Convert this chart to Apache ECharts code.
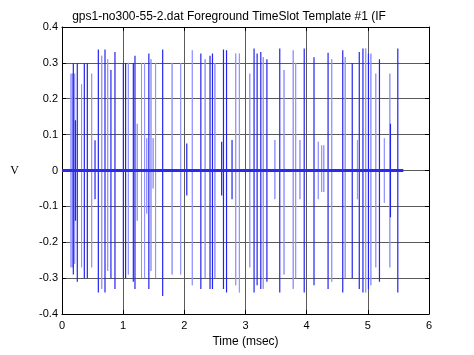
<!DOCTYPE html>
<html>
<head>
<meta charset="utf-8">
<script src="https://cdn.jsdelivr.net/npm/echarts@6/dist/echarts.min.js"></script>
<style>html,body{margin:0;padding:0;background:#fff}#c{width:474px;height:355px}</style>
</head>
<body>
<div id="c"></div>
<script>
const titleText = "gps1-no300-55-2.dat Foreground TimeSlot Template #1 (IF";
const xTicks = [0, 1, 2, 3, 4, 5, 6];
const yTicks = [-0.4, -0.3, -0.2, -0.1, 0, 0.1, 0.2, 0.3, 0.4];
// pulse times (msec), positive peak, negative peak, dark(1)/faint(0)
const spikeT  = [0.147,0.17,0.185,0.207,0.22,0.25,0.32,0.365,0.414,0.485,0.54,0.594,0.65,0.703,0.747,0.80,0.866,1.003,1.04,1.085,1.166,1.193,1.23,1.30,1.35,1.385,1.42,1.455,1.49,1.53,1.646,1.80,1.94,2.04,2.13,2.27,2.34,2.42,2.46,2.50,2.61,2.64,2.69,2.78,2.84,2.90,3.07,3.14,3.19,3.25,3.29,3.35,3.48,3.56,3.63,3.78,3.82,3.89,3.96,4.12,4.19,4.245,4.28,4.35,4.41,4.59,4.63,4.745,4.83,4.86,4.92,4.965,5.01,5.05,5.13,5.19,5.27,5.36,5.37,5.49];
const spikeHi = [0.27,0.27,0.30,0.27,0.14,0.30,0.24,0.30,0.30,0.27,0.084,0.337,0.32,0.337,0.31,0.28,0.33,0.30,0.30,0.30,0.30,0.32,0.13,0.30,0.30,0.09,0.326,0.31,0.09,0.30,0.337,0.30,0.30,0.075,0.335,0.326,0.31,0.32,0.326,0.30,0.08,0.337,0.335,0.085,0.326,0.326,0.27,0.34,0.326,0.33,0.316,0.31,0.085,0.34,0.28,0.335,0.30,0.085,0.34,0.316,0.08,0.07,0.07,0.328,0.31,0.335,0.316,0.30,0.085,0.33,0.34,0.34,0.326,0.326,0.27,0.31,0.09,0.27,0.13,0.34];
const spikeLo = [-0.27,-0.27,-0.29,-0.26,-0.14,-0.31,-0.27,-0.30,-0.30,-0.27,-0.08,-0.34,-0.33,-0.34,-0.28,-0.30,-0.33,-0.30,-0.30,-0.29,-0.31,-0.33,-0.14,-0.30,-0.30,-0.12,-0.33,-0.28,-0.05,-0.30,-0.35,-0.29,-0.29,-0.07,-0.32,-0.33,-0.30,-0.33,-0.33,-0.30,-0.07,-0.33,-0.34,-0.08,-0.32,-0.34,-0.27,-0.34,-0.32,-0.33,-0.33,-0.31,-0.08,-0.34,-0.29,-0.33,-0.30,-0.08,-0.34,-0.32,-0.08,-0.06,-0.06,-0.33,-0.31,-0.34,-0.30,-0.30,-0.08,-0.33,-0.34,-0.34,-0.33,-0.32,-0.27,-0.31,-0.09,-0.27,-0.13,-0.34];
const spikeDark = [0,0,1,0,1,1,0,1,1,0,1,1,0,1,0,1,1,1,1,0,1,1,0,0,0,0,1,0,0,0,1,0,0,1,0,1,0,1,1,0,1,1,1,1,0,0,0,1,1,1,0,1,0,1,0,0,0,0,1,1,0,0,0,1,0,1,0,1,0,1,1,0,1,0,0,1,0,0,1,1];
const baseStart = 0.0, baseEnd = 5.58;

function build(flag){
  const d = [];
  for (let i = 0; i < spikeT.length; i++) {
    if (spikeDark[i] !== flag) continue;
    d.push([spikeT[i], 0], [spikeT[i], spikeHi[i]], [spikeT[i], spikeLo[i]], [spikeT[i], 0], null);
  }
  return d;
}
const fmtY = v => { const r = Math.round(v*10)/10; return r === 0 ? '0' : String(r); };
const font = 'Liberation Sans';
const chart = echarts.init(document.getElementById('c'));
const axisCommon = {
  type: 'value',
  axisLine: {show: true, onZero: false, lineStyle: {color: '#000', width: 1}},
  axisTick: {show: true, inside: true, length: 4, lineStyle: {color: '#000'}},
};
chart.setOption({
  animation: false,
  backgroundColor: '#fff',
  title: {text: titleText, left: 224, top: 6, textAlign: 'center',
    textStyle: {fontFamily: font, fontSize: 12, fontWeight: 'normal', color: '#000'}},
  grid: {left: 62, right: 45, top: 27, bottom: 41, show: false},
  xAxis: [
    Object.assign({}, axisCommon, {min: xTicks[0], max: xTicks[xTicks.length-1], interval: 1,
      name: 'Time (msec)', nameLocation: 'middle', nameGap: 21,
      nameTextStyle: {fontFamily: font, fontSize: 12, color: '#000'},
      axisLabel: {fontFamily: font, fontSize: 11, color: '#000', margin: 6},
      splitLine: {show: true, lineStyle: {color: '#5a5a5a', width: 1}}}),
    Object.assign({}, axisCommon, {position: 'top', min: 0, max: 6, interval: 1,
      axisLabel: {show: false}, splitLine: {show: false}})
  ],
  yAxis: [
    Object.assign({}, axisCommon, {min: yTicks[0], max: yTicks[yTicks.length-1], interval: 0.1,
      name: 'V', nameLocation: 'middle', nameGap: 43, nameRotate: 0,
      nameTextStyle: {fontFamily: 'Liberation Serif', fontSize: 12, color: '#000'},
      axisLabel: {fontFamily: font, fontSize: 11, color: '#000', margin: 4, formatter: fmtY},
      splitLine: {show: true, lineStyle: {color: '#5a5a5a', width: 1}}}),
    Object.assign({}, axisCommon, {position: 'right', min: -0.4, max: 0.4, interval: 0.1,
      axisLabel: {show: false}, splitLine: {show: false}})
  ],
  series: [
    {type: 'line', data: build(0), showSymbol: false, connectNulls: false,
      lineStyle: {color: '#9494ff', width: 1}, z: 2},
    {type: 'line', data: build(1), showSymbol: false, connectNulls: false,
      lineStyle: {color: '#2424f0', width: 1.2}, z: 3},
    {type: 'line', data: [[baseStart, 0], [baseEnd, 0]], showSymbol: false,
      lineStyle: {color: '#2b2be6', width: 3}, z: 4}
  ]
});
</script>
</body>
</html>
